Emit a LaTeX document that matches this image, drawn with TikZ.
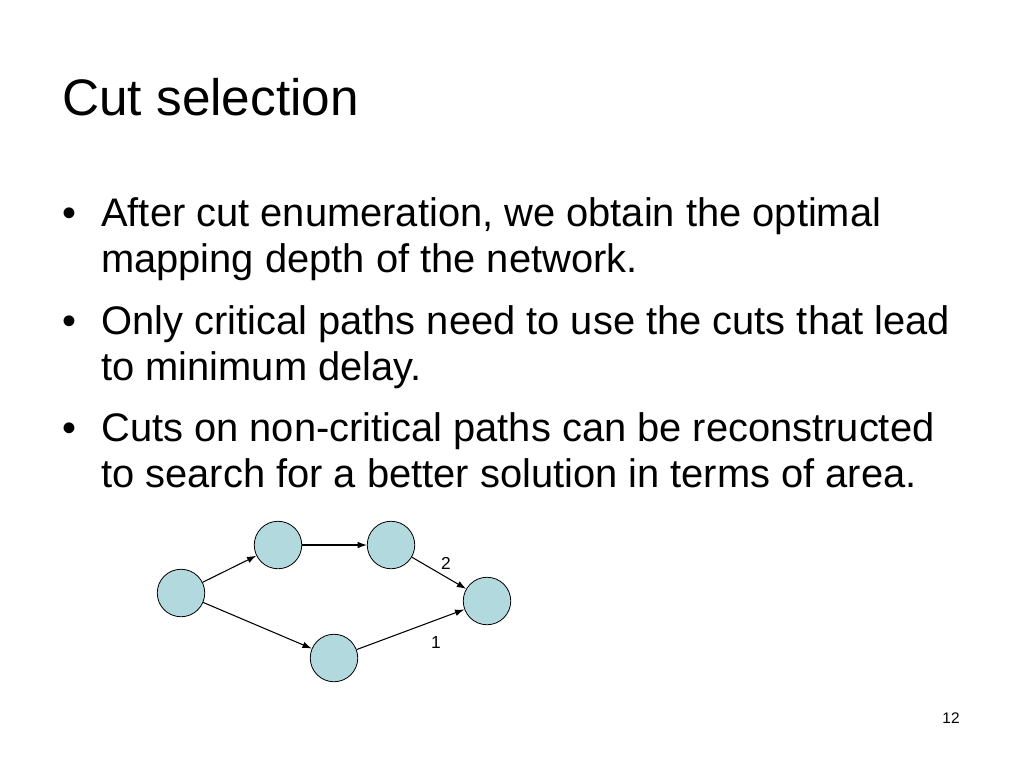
\documentclass[tikz,border=0pt]{standalone}
\usepackage{fontspec}
\usetikzlibrary{arrows.meta}
\setmainfont{Liberation Sans}
\begin{document}
\begin{tikzpicture}[x=0.75pt,y=-0.75pt,
  body/.style={anchor=base west,inner sep=0pt,font=\fontsize{29.9}{34}\selectfont},
  vtx/.style={circle,draw=black,line width=0.6pt,fill={rgb,255:red,178;green,218;blue,222},minimum size=47.5*0.75pt,inner sep=0pt},
  arr/.style={-{Latex[length=7pt,width=5pt]},line width=0.8pt},
  lbl/.style={inner sep=0pt,font=\fontsize{13}{15}\selectfont}]
\useasboundingbox (0,0) rectangle (1024,768);
\node[anchor=base west,inner sep=0pt,font=\fontsize{38.5}{44}\selectfont] (title) at (62,115) {Cut selection};
\node[body] (b1) at (62,226) {•};
\node[body] (t1) at (101,226) {After cut enumeration, we obtain the optimal};
\node[body] (t1b) at (101,272) {mapping depth of the network.};
\node[body] (b2) at (62,334) {•};
\node[body] (t2) at (101,334) {Only critical paths need to use the cuts that lead};
\node[body] (t2b) at (101,380) {to minimum delay.};
\node[body] (b3) at (62,441) {•};
\node[body] (t3) at (101,441) {Cuts on non-critical paths can be reconstructed};
\node[body] (t3b) at (101,487) {to search for a better solution in terms of area.};
\node[vtx] (A) at (181,593) {};
\node[vtx] (B) at (278,545) {};
\node[vtx] (C) at (391,545) {};
\node[vtx] (D) at (487,601) {};
\node[vtx] (E) at (334,658) {};
\draw[arr] (A) -- (B);
\draw[arr] (B) -- (C);
\draw[arr] (C) -- (D);
\draw[arr] (A) -- (E);
\draw[arr] (E) -- (D);
\node[lbl] (l2) at (446,563) {2};
\node[lbl] (l1) at (436,643) {1};
\node[lbl,font=\fontsize{11.5}{13}\selectfont] (pg) at (951,718) {12};
\end{tikzpicture}
\end{document}
